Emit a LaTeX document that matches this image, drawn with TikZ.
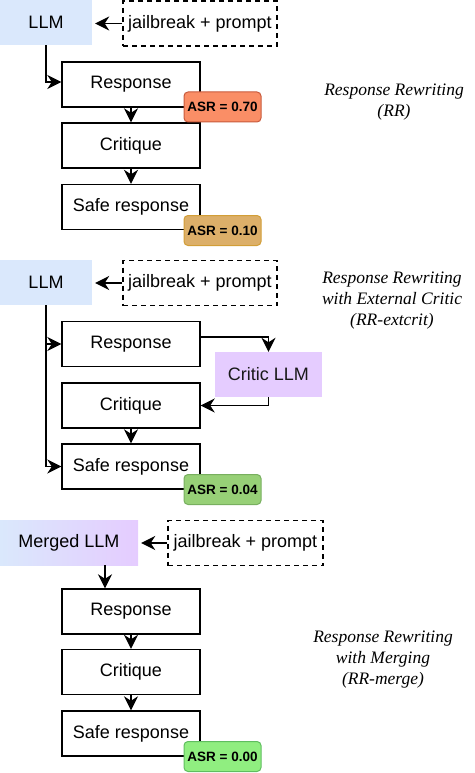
\documentclass[tikz,border=0pt]{standalone}
\usepackage{fontspec}
\setmainfont{Liberation Serif}
\newfontfamily\boxfont{Liberation Sans}
\usetikzlibrary{arrows.meta,calc}
\definecolor{llmblue}{HTML}{DAE8FC}
\definecolor{criticpurple}{HTML}{E5CCFF}
\definecolor{bOrangeF}{RGB}{250,142,102}
\definecolor{bOrangeD}{RGB}{200,90,60}
\definecolor{bTanF}{RGB}{220,175,105}
\definecolor{bTanD}{RGB}{210,158,55}
\definecolor{bGreenF}{RGB}{151,208,119}
\definecolor{bGreenD}{RGB}{120,175,95}
\definecolor{bLimeF}{RGB}{144,238,128}
\definecolor{bLimeD}{RGB}{95,190,95}
\tikzset{
  boxtext/.style={font=\boxfont\fontsize{18}{21}\selectfont, inner sep=0pt, align=center},
  stepbox/.style={boxtext, draw=black, line width=1.4pt, fill=white, minimum width=138pt, minimum height=45pt},
  llmbox/.style={boxtext, fill=llmblue, minimum width=92pt, minimum height=45pt},
  inbox/.style={boxtext, draw=black, line width=1.3pt, dash pattern=on 5pt off 4pt, minimum width=154pt, minimum height=45pt},
  badge/.style={font=\boxfont\bfseries\fontsize{13.5}{16}\selectfont, inner sep=0pt, rounded corners=4pt, line width=1pt, minimum width=77pt, minimum height=30pt},
  lbl/.style={font=\itshape\fontsize{17.5}{21}\selectfont, align=center, inner sep=0pt},
  arr/.style={line width=1.5pt, -{Stealth[length=14pt, width=14pt, inset=4.5pt]}},
}
\begin{document}
\begin{tikzpicture}[x=1pt,y=-1pt]
\useasboundingbox (0,0) rectangle (474,773);
% ---------- Panel 1 ----------
\node[llmbox] (llm1) at (46,22.5) {LLM};
\node[inbox] (jb1) at (200,23.5) {jailbreak + prompt};
\node[stepbox] (resp1) at (131,84.5) {Response};
\node[stepbox] (crit1) at (131,145.5) {Critique};
\node[stepbox] (safe1) at (131,207) {Safe response};
\draw[arr, shorten >=3pt] (jb1.west) -- (jb1.west -| llm1.east);
\draw[arr] (llm1.south) |- ($(resp1.west)+(0,-2.5)$);
\draw[arr] (resp1.south) -- (crit1.north);
\draw[arr] (crit1.south) -- (safe1.north);
\node[badge, fill=bOrangeF, draw=bOrangeD] (b1) at (222.5,107) {ASR = 0.70};
\node[badge, fill=bTanF, draw=bTanD] (b2) at (222.5,230.5) {ASR = 0.10};
\node[lbl] (l1) at (394,102.5) {Response Rewriting\\(RR)};
% ---------- Panel 2 ----------
\node[llmbox] (llm2) at (46,282.5) {LLM};
\node[inbox] (jb2) at (200,283) {jailbreak + prompt};
\node[stepbox] (resp2) at (131,344) {Response};
\node[boxtext, fill=criticpurple, text=black!90, minimum width=107pt, minimum height=45pt] (critic) at (268.5,374.5) {Critic LLM};
\node[stepbox] (crit2) at (131,405.5) {Critique};
\node[stepbox] (safe2) at (131,466.5) {Safe response};
\draw[arr, shorten >=3pt] (jb2.west) -- (jb2.west -| llm2.east);
\draw[arr] (llm2.south) |- (safe2.west);
\draw[arr] (llm2.south |- resp2.west) -- (resp2.west);
\draw[arr] ($(resp2.east)+(0,-7)$) -| (critic.north);
\draw[arr] (critic.south) |- (crit2.east);
\draw[arr] (crit2.south) -- (safe2.north);
\node[badge, fill=bGreenF, draw=bGreenD] (b3) at (222.5,489.5) {ASR = 0.04};
\node[lbl] (l2) at (392,300.5) {Response Rewriting\\with External Critic\\(RR-extcrit)};
% ---------- Panel 3 ----------
\node[boxtext, left color=llmblue, right color=criticpurple, minimum width=138pt, minimum height=45pt] (merged) at (69,542.5) {Merged LLM};
\node[inbox, minimum width=155pt] (jb3) at (245.5,543) {jailbreak + prompt};
\node[stepbox] (resp3) at (131,611.5) {Response};
\node[stepbox] (crit3) at (131,672) {Critique};
\node[stepbox] (safe3) at (131,733.5) {Safe response};
\draw[arr, shorten >=3pt] (jb3.west) -- (jb3.west -| merged.east);
\draw[arr] ([xshift=36pt]merged.south) -- ([xshift=36pt]merged.south |- resp3.north);
\draw[arr] (resp3.south) -- (crit3.north);
\draw[arr] (crit3.south) -- (safe3.north);
\node[badge, fill=bLimeF, draw=bLimeD] (b4) at (222.5,756.5) {ASR = 0.00};
\node[lbl] (l3) at (383,659.5) {Response Rewriting\\with Merging\\(RR-merge)};
\end{tikzpicture}
\end{document}
